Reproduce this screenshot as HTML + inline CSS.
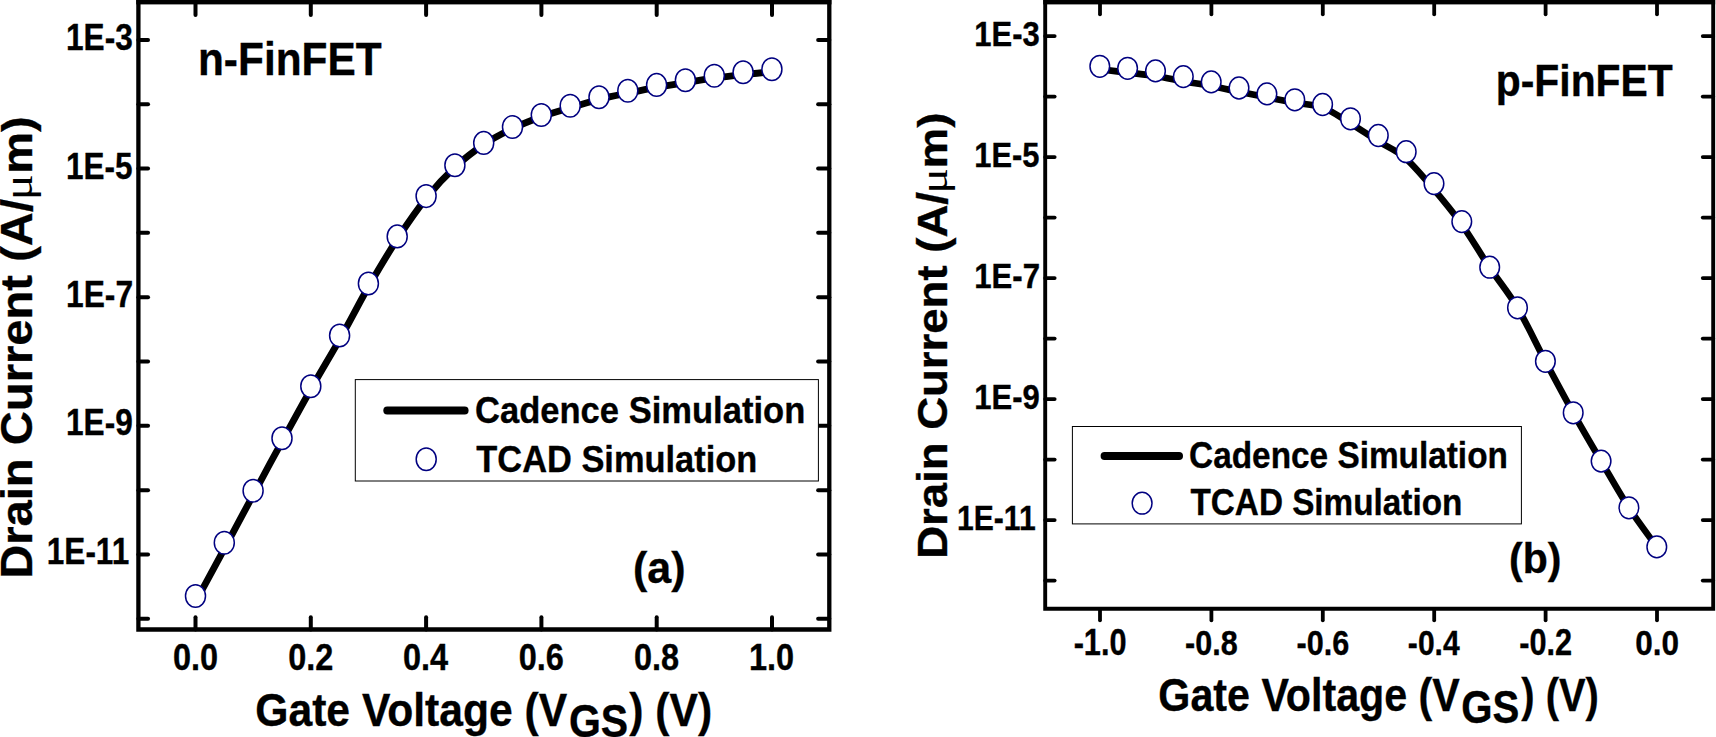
<!DOCTYPE html>
<html><head><meta charset="utf-8"><title>FinFET Id-Vg</title>
<style>
html,body{margin:0;padding:0;background:#fff;}
body{width:1716px;height:737px;overflow:hidden;}
svg{display:block;font-family:"Liberation Sans",sans-serif;font-weight:bold;fill:#000;}
text{stroke:#000;stroke-width:0.35px;}
</style></head><body>
<svg width="1716" height="737" viewBox="0 0 1716 737">
<rect width="1716" height="737" fill="#fff"/>
<path d="M138.4,0 V629.5 H829.3 V0" fill="none" stroke="#000" stroke-width="4.3" stroke-linejoin="miter"/>
<rect x="136.25" y="0" width="695.1999999999999" height="4.4" fill="#000"/>
<line x1="138.4" y1="39.90" x2="148.05" y2="39.90" stroke="#000" stroke-width="4" stroke-linecap="round"/>
<line x1="829.3" y1="39.90" x2="818.15" y2="39.90" stroke="#000" stroke-width="4" stroke-linecap="round"/>
<line x1="138.4" y1="104.22" x2="148.05" y2="104.22" stroke="#000" stroke-width="4" stroke-linecap="round"/>
<line x1="829.3" y1="104.22" x2="818.15" y2="104.22" stroke="#000" stroke-width="4" stroke-linecap="round"/>
<line x1="138.4" y1="168.54" x2="148.05" y2="168.54" stroke="#000" stroke-width="4" stroke-linecap="round"/>
<line x1="829.3" y1="168.54" x2="818.15" y2="168.54" stroke="#000" stroke-width="4" stroke-linecap="round"/>
<line x1="138.4" y1="232.86" x2="148.05" y2="232.86" stroke="#000" stroke-width="4" stroke-linecap="round"/>
<line x1="829.3" y1="232.86" x2="818.15" y2="232.86" stroke="#000" stroke-width="4" stroke-linecap="round"/>
<line x1="138.4" y1="297.18" x2="148.05" y2="297.18" stroke="#000" stroke-width="4" stroke-linecap="round"/>
<line x1="829.3" y1="297.18" x2="818.15" y2="297.18" stroke="#000" stroke-width="4" stroke-linecap="round"/>
<line x1="138.4" y1="361.50" x2="148.05" y2="361.50" stroke="#000" stroke-width="4" stroke-linecap="round"/>
<line x1="829.3" y1="361.50" x2="818.15" y2="361.50" stroke="#000" stroke-width="4" stroke-linecap="round"/>
<line x1="138.4" y1="425.82" x2="148.05" y2="425.82" stroke="#000" stroke-width="4" stroke-linecap="round"/>
<line x1="829.3" y1="425.82" x2="818.15" y2="425.82" stroke="#000" stroke-width="4" stroke-linecap="round"/>
<line x1="138.4" y1="490.14" x2="148.05" y2="490.14" stroke="#000" stroke-width="4" stroke-linecap="round"/>
<line x1="829.3" y1="490.14" x2="818.15" y2="490.14" stroke="#000" stroke-width="4" stroke-linecap="round"/>
<line x1="138.4" y1="554.46" x2="148.05" y2="554.46" stroke="#000" stroke-width="4" stroke-linecap="round"/>
<line x1="829.3" y1="554.46" x2="818.15" y2="554.46" stroke="#000" stroke-width="4" stroke-linecap="round"/>
<line x1="138.4" y1="618.78" x2="148.05" y2="618.78" stroke="#000" stroke-width="4" stroke-linecap="round"/>
<line x1="829.3" y1="618.78" x2="818.15" y2="618.78" stroke="#000" stroke-width="4" stroke-linecap="round"/>
<line x1="195.50" y1="2.2" x2="195.50" y2="14.95" stroke="#000" stroke-width="4" stroke-linecap="round"/>
<line x1="195.50" y1="629.5" x2="195.50" y2="617.35" stroke="#000" stroke-width="4" stroke-linecap="round"/>
<line x1="310.80" y1="2.2" x2="310.80" y2="14.95" stroke="#000" stroke-width="4" stroke-linecap="round"/>
<line x1="310.80" y1="629.5" x2="310.80" y2="617.35" stroke="#000" stroke-width="4" stroke-linecap="round"/>
<line x1="426.10" y1="2.2" x2="426.10" y2="14.95" stroke="#000" stroke-width="4" stroke-linecap="round"/>
<line x1="426.10" y1="629.5" x2="426.10" y2="617.35" stroke="#000" stroke-width="4" stroke-linecap="round"/>
<line x1="541.40" y1="2.2" x2="541.40" y2="14.95" stroke="#000" stroke-width="4" stroke-linecap="round"/>
<line x1="541.40" y1="629.5" x2="541.40" y2="617.35" stroke="#000" stroke-width="4" stroke-linecap="round"/>
<line x1="656.70" y1="2.2" x2="656.70" y2="14.95" stroke="#000" stroke-width="4" stroke-linecap="round"/>
<line x1="656.70" y1="629.5" x2="656.70" y2="617.35" stroke="#000" stroke-width="4" stroke-linecap="round"/>
<line x1="772.00" y1="2.2" x2="772.00" y2="14.95" stroke="#000" stroke-width="4" stroke-linecap="round"/>
<line x1="772.00" y1="629.5" x2="772.00" y2="617.35" stroke="#000" stroke-width="4" stroke-linecap="round"/>
<path d="M198.3,596.8 C203.1,587.9 217.6,561.2 227.1,543.6 C236.6,526.0 245.7,508.8 255.1,491.3 C264.5,473.8 273.9,456.2 283.5,438.8 C293.0,421.4 302.6,403.8 312.3,386.7 C322.0,369.6 332.0,353.2 341.6,336.1 C351.2,319.0 360.4,300.8 369.9,284.3 C379.4,267.9 388.9,251.9 398.4,237.4 C407.9,222.9 417.4,209.2 426.9,197.4 C436.4,185.6 445.9,175.6 455.4,166.8 C464.9,158.0 474.5,150.8 484.0,144.4 C493.5,138.0 503.0,133.2 512.5,128.6 C522.1,124.0 531.7,120.3 541.3,116.8 C550.9,113.3 560.6,110.7 570.2,107.8 C579.8,104.9 589.4,102.0 599.0,99.5 C608.6,97.0 618.2,95.1 627.8,93.1 C637.4,91.1 647.0,89.1 656.6,87.3 C666.2,85.6 675.8,84.1 685.4,82.6 C695.0,81.1 704.7,79.5 714.3,78.2 C723.9,76.9 733.5,75.8 743.1,74.7 C752.7,73.6 767.1,72.2 771.9,71.7" fill="none" stroke="#000" stroke-width="6.8" stroke-linejoin="round"/>
<ellipse cx="195.5" cy="596.0" rx="10.0" ry="11.3" fill="#fff" stroke="#000080" stroke-width="1.5"/>
<ellipse cx="224.3" cy="542.8" rx="10.0" ry="11.3" fill="#fff" stroke="#000080" stroke-width="1.5"/>
<ellipse cx="253.1" cy="490.7" rx="10.0" ry="11.3" fill="#fff" stroke="#000080" stroke-width="1.5"/>
<ellipse cx="282.0" cy="438.3" rx="10.0" ry="11.3" fill="#fff" stroke="#000080" stroke-width="1.5"/>
<ellipse cx="310.8" cy="386.2" rx="10.0" ry="11.3" fill="#fff" stroke="#000080" stroke-width="1.5"/>
<ellipse cx="339.6" cy="335.5" rx="10.0" ry="11.3" fill="#fff" stroke="#000080" stroke-width="1.5"/>
<ellipse cx="368.4" cy="283.5" rx="10.0" ry="11.3" fill="#fff" stroke="#000080" stroke-width="1.5"/>
<ellipse cx="397.2" cy="236.4" rx="10.0" ry="11.3" fill="#fff" stroke="#000080" stroke-width="1.5"/>
<ellipse cx="426.1" cy="196.1" rx="10.0" ry="11.3" fill="#fff" stroke="#000080" stroke-width="1.5"/>
<ellipse cx="454.9" cy="165.3" rx="10.0" ry="11.3" fill="#fff" stroke="#000080" stroke-width="1.5"/>
<ellipse cx="483.7" cy="142.9" rx="10.0" ry="11.3" fill="#fff" stroke="#000080" stroke-width="1.5"/>
<ellipse cx="512.5" cy="127.0" rx="10.0" ry="11.3" fill="#fff" stroke="#000080" stroke-width="1.5"/>
<ellipse cx="541.3" cy="115.0" rx="10.0" ry="11.3" fill="#fff" stroke="#000080" stroke-width="1.5"/>
<ellipse cx="570.2" cy="105.8" rx="10.0" ry="11.3" fill="#fff" stroke="#000080" stroke-width="1.5"/>
<ellipse cx="599.0" cy="97.3" rx="10.0" ry="11.3" fill="#fff" stroke="#000080" stroke-width="1.5"/>
<ellipse cx="627.8" cy="90.8" rx="10.0" ry="11.3" fill="#fff" stroke="#000080" stroke-width="1.5"/>
<ellipse cx="656.6" cy="84.9" rx="10.0" ry="11.3" fill="#fff" stroke="#000080" stroke-width="1.5"/>
<ellipse cx="685.4" cy="80.2" rx="10.0" ry="11.3" fill="#fff" stroke="#000080" stroke-width="1.5"/>
<ellipse cx="714.3" cy="75.8" rx="10.0" ry="11.3" fill="#fff" stroke="#000080" stroke-width="1.5"/>
<ellipse cx="743.1" cy="72.3" rx="10.0" ry="11.3" fill="#fff" stroke="#000080" stroke-width="1.5"/>
<ellipse cx="771.9" cy="69.3" rx="10.0" ry="11.3" fill="#fff" stroke="#000080" stroke-width="1.5"/>
<rect x="355.3" y="379.6" width="463.09999999999997" height="101.39999999999998" fill="#fff" stroke="#000" stroke-width="1"/>
<line x1="387.2" y1="410.5" x2="464.7" y2="410.5" stroke="#000" stroke-width="7.8" stroke-linecap="round"/>
<ellipse cx="426.2" cy="459.3" rx="10.0" ry="11.3" fill="#fff" stroke="#000080" stroke-width="1.5"/>
<text transform="translate(475.02,423.00) scale(0.9217,1)" font-size="37.5">Cadence Simulation</text>
<text transform="translate(476.26,471.50) scale(0.9178,1)" font-size="37.5">TCAD Simulation</text>
<text transform="translate(197.94,74.50) scale(0.9122,1)" font-size="46.5">n-FinFET</text>
<text transform="translate(632.96,582.80) scale(0.9559,1)" font-size="45">(a)</text>
<text transform="translate(66.02,50.10) scale(0.8498,1)" font-size="37.2">1E-3</text>
<text transform="translate(66.03,178.50) scale(0.8467,1)" font-size="37.2">1E-5</text>
<text transform="translate(66.01,306.90) scale(0.8540,1)" font-size="37.2">1E-7</text>
<text transform="translate(66.02,435.30) scale(0.8509,1)" font-size="37.2">1E-9</text>
<text transform="translate(46.83,563.70) scale(0.8474,1)" font-size="37.2">1E-11</text>
<text transform="translate(172.92,670.00) scale(0.9000,1)" font-size="36.1">0.0</text>
<text transform="translate(288.22,670.00) scale(0.9000,1)" font-size="36.1">0.2</text>
<text transform="translate(402.95,670.00) scale(0.9000,1)" font-size="36.1">0.4</text>
<text transform="translate(518.74,670.00) scale(0.9000,1)" font-size="36.1">0.6</text>
<text transform="translate(633.96,670.00) scale(0.9000,1)" font-size="36.1">0.8</text>
<text transform="translate(749.01,670.00) scale(0.9000,1)" font-size="36.1">1.0</text>
<text transform="translate(255.29,725.90) scale(0.9170,1)" font-size="46.5">Gate Voltage (V</text>
<text transform="translate(568.96,737.20) scale(0.8822,1)" font-size="46.5">GS</text>
<text transform="translate(629.20,725.90) scale(0.9170,1)" font-size="46.5">) (V)</text>
<text transform="translate(31.90,575.80) rotate(-90) scale(1.0843,1) translate(-2.83,0)" font-size="43.5">Drain Current (A/</text>
<text transform="translate(31.90,196.30) rotate(-90) scale(1.2406,1) translate(-3.12,0)" font-size="39" font-family="Liberation Serif, serif" font-weight="normal" style="stroke:none">μ</text>
<text transform="translate(31.90,170.80) rotate(-90) scale(1.1203,1) translate(-2.73,0)" font-size="41.9775">m)</text>
<path d="M1045.2,0 V608.8 H1713.2 V0" fill="none" stroke="#000" stroke-width="3.9" stroke-linejoin="miter"/>
<rect x="1043.25" y="0" width="671.9" height="4.4" fill="#000"/>
<line x1="1045.2" y1="36.10" x2="1054.65" y2="36.10" stroke="#000" stroke-width="3.8" stroke-linecap="round"/>
<line x1="1713.2" y1="36.10" x2="1702.75" y2="36.10" stroke="#000" stroke-width="3.8" stroke-linecap="round"/>
<line x1="1045.2" y1="96.60" x2="1054.65" y2="96.60" stroke="#000" stroke-width="3.8" stroke-linecap="round"/>
<line x1="1713.2" y1="96.60" x2="1702.75" y2="96.60" stroke="#000" stroke-width="3.8" stroke-linecap="round"/>
<line x1="1045.2" y1="157.10" x2="1054.65" y2="157.10" stroke="#000" stroke-width="3.8" stroke-linecap="round"/>
<line x1="1713.2" y1="157.10" x2="1702.75" y2="157.10" stroke="#000" stroke-width="3.8" stroke-linecap="round"/>
<line x1="1045.2" y1="217.60" x2="1054.65" y2="217.60" stroke="#000" stroke-width="3.8" stroke-linecap="round"/>
<line x1="1713.2" y1="217.60" x2="1702.75" y2="217.60" stroke="#000" stroke-width="3.8" stroke-linecap="round"/>
<line x1="1045.2" y1="278.10" x2="1054.65" y2="278.10" stroke="#000" stroke-width="3.8" stroke-linecap="round"/>
<line x1="1713.2" y1="278.10" x2="1702.75" y2="278.10" stroke="#000" stroke-width="3.8" stroke-linecap="round"/>
<line x1="1045.2" y1="338.60" x2="1054.65" y2="338.60" stroke="#000" stroke-width="3.8" stroke-linecap="round"/>
<line x1="1713.2" y1="338.60" x2="1702.75" y2="338.60" stroke="#000" stroke-width="3.8" stroke-linecap="round"/>
<line x1="1045.2" y1="399.10" x2="1054.65" y2="399.10" stroke="#000" stroke-width="3.8" stroke-linecap="round"/>
<line x1="1713.2" y1="399.10" x2="1702.75" y2="399.10" stroke="#000" stroke-width="3.8" stroke-linecap="round"/>
<line x1="1045.2" y1="459.60" x2="1054.65" y2="459.60" stroke="#000" stroke-width="3.8" stroke-linecap="round"/>
<line x1="1713.2" y1="459.60" x2="1702.75" y2="459.60" stroke="#000" stroke-width="3.8" stroke-linecap="round"/>
<line x1="1045.2" y1="520.10" x2="1054.65" y2="520.10" stroke="#000" stroke-width="3.8" stroke-linecap="round"/>
<line x1="1713.2" y1="520.10" x2="1702.75" y2="520.10" stroke="#000" stroke-width="3.8" stroke-linecap="round"/>
<line x1="1045.2" y1="580.60" x2="1054.65" y2="580.60" stroke="#000" stroke-width="3.8" stroke-linecap="round"/>
<line x1="1713.2" y1="580.60" x2="1702.75" y2="580.60" stroke="#000" stroke-width="3.8" stroke-linecap="round"/>
<line x1="1100.00" y1="2.3" x2="1100.00" y2="14.35" stroke="#000" stroke-width="3.8" stroke-linecap="round"/>
<line x1="1100.00" y1="608.8" x2="1100.00" y2="620.25" stroke="#000" stroke-width="3.8" stroke-linecap="round"/>
<line x1="1211.40" y1="2.3" x2="1211.40" y2="14.35" stroke="#000" stroke-width="3.8" stroke-linecap="round"/>
<line x1="1211.40" y1="608.8" x2="1211.40" y2="620.25" stroke="#000" stroke-width="3.8" stroke-linecap="round"/>
<line x1="1322.80" y1="2.3" x2="1322.80" y2="14.35" stroke="#000" stroke-width="3.8" stroke-linecap="round"/>
<line x1="1322.80" y1="608.8" x2="1322.80" y2="620.25" stroke="#000" stroke-width="3.8" stroke-linecap="round"/>
<line x1="1434.20" y1="2.3" x2="1434.20" y2="14.35" stroke="#000" stroke-width="3.8" stroke-linecap="round"/>
<line x1="1434.20" y1="608.8" x2="1434.20" y2="620.25" stroke="#000" stroke-width="3.8" stroke-linecap="round"/>
<line x1="1545.60" y1="2.3" x2="1545.60" y2="14.35" stroke="#000" stroke-width="3.8" stroke-linecap="round"/>
<line x1="1545.60" y1="608.8" x2="1545.60" y2="620.25" stroke="#000" stroke-width="3.8" stroke-linecap="round"/>
<line x1="1657.00" y1="2.3" x2="1657.00" y2="14.35" stroke="#000" stroke-width="3.8" stroke-linecap="round"/>
<line x1="1657.00" y1="608.8" x2="1657.00" y2="620.25" stroke="#000" stroke-width="3.8" stroke-linecap="round"/>
<path d="M1099.8,69.3 C1104.4,69.8 1118.4,71.5 1127.6,72.6 C1136.9,73.7 1146.2,74.5 1155.5,75.9 C1164.8,77.3 1174.1,79.5 1183.3,81.2 C1192.6,82.9 1201.9,84.3 1211.2,86.1 C1220.5,87.9 1229.8,90.0 1239.0,91.8 C1248.3,93.6 1257.6,95.4 1266.9,97.2 C1276.2,99.0 1285.5,101.0 1294.8,102.7 C1304.0,104.4 1313.3,104.1 1322.6,107.5 C1331.9,110.9 1341.3,117.8 1350.5,123.3 C1359.6,128.8 1368.5,135.2 1377.5,140.8 C1386.5,146.5 1395.3,149.5 1404.4,157.2 C1413.4,164.9 1422.6,176.1 1432.0,187.1 C1441.4,198.1 1451.2,209.7 1460.8,223.1 C1470.5,236.5 1480.2,253.6 1489.7,267.7 C1499.2,281.8 1508.3,292.2 1517.5,307.8 C1526.8,323.4 1536.1,343.8 1545.4,361.3 C1554.7,378.8 1564.0,396.2 1573.2,412.8 C1582.5,429.4 1591.8,445.3 1601.1,461.1 C1610.4,476.9 1619.7,493.5 1628.9,507.8 C1638.2,522.1 1652.2,540.4 1656.8,546.9" fill="none" stroke="#000" stroke-width="6.6" stroke-linejoin="round"/>
<ellipse cx="1099.8" cy="66.3" rx="9.8" ry="10.9" fill="#fff" stroke="#000080" stroke-width="1.5"/>
<ellipse cx="1127.6" cy="68.3" rx="9.8" ry="10.9" fill="#fff" stroke="#000080" stroke-width="1.5"/>
<ellipse cx="1155.5" cy="70.9" rx="9.8" ry="10.9" fill="#fff" stroke="#000080" stroke-width="1.5"/>
<ellipse cx="1183.3" cy="76.6" rx="9.8" ry="10.9" fill="#fff" stroke="#000080" stroke-width="1.5"/>
<ellipse cx="1211.2" cy="81.9" rx="9.8" ry="10.9" fill="#fff" stroke="#000080" stroke-width="1.5"/>
<ellipse cx="1239.0" cy="88.0" rx="9.8" ry="10.9" fill="#fff" stroke="#000080" stroke-width="1.5"/>
<ellipse cx="1266.9" cy="93.9" rx="9.8" ry="10.9" fill="#fff" stroke="#000080" stroke-width="1.5"/>
<ellipse cx="1294.8" cy="99.8" rx="9.8" ry="10.9" fill="#fff" stroke="#000080" stroke-width="1.5"/>
<ellipse cx="1322.6" cy="104.5" rx="9.8" ry="10.9" fill="#fff" stroke="#000080" stroke-width="1.5"/>
<ellipse cx="1350.5" cy="118.8" rx="9.8" ry="10.9" fill="#fff" stroke="#000080" stroke-width="1.5"/>
<ellipse cx="1378.3" cy="135.5" rx="9.8" ry="10.9" fill="#fff" stroke="#000080" stroke-width="1.5"/>
<ellipse cx="1406.2" cy="151.7" rx="9.8" ry="10.9" fill="#fff" stroke="#000080" stroke-width="1.5"/>
<ellipse cx="1434.0" cy="183.6" rx="9.8" ry="10.9" fill="#fff" stroke="#000080" stroke-width="1.5"/>
<ellipse cx="1461.8" cy="221.6" rx="9.8" ry="10.9" fill="#fff" stroke="#000080" stroke-width="1.5"/>
<ellipse cx="1489.7" cy="267.2" rx="9.8" ry="10.9" fill="#fff" stroke="#000080" stroke-width="1.5"/>
<ellipse cx="1517.5" cy="307.8" rx="9.8" ry="10.9" fill="#fff" stroke="#000080" stroke-width="1.5"/>
<ellipse cx="1545.4" cy="361.3" rx="9.8" ry="10.9" fill="#fff" stroke="#000080" stroke-width="1.5"/>
<ellipse cx="1573.2" cy="412.8" rx="9.8" ry="10.9" fill="#fff" stroke="#000080" stroke-width="1.5"/>
<ellipse cx="1601.1" cy="461.1" rx="9.8" ry="10.9" fill="#fff" stroke="#000080" stroke-width="1.5"/>
<ellipse cx="1628.9" cy="507.8" rx="9.8" ry="10.9" fill="#fff" stroke="#000080" stroke-width="1.5"/>
<ellipse cx="1656.8" cy="546.9" rx="9.8" ry="10.9" fill="#fff" stroke="#000080" stroke-width="1.5"/>
<rect x="1072.4" y="426.5" width="449.0" height="97.39999999999998" fill="#fff" stroke="#000" stroke-width="1"/>
<line x1="1104.5" y1="456" x2="1179.1" y2="456" stroke="#000" stroke-width="7.8" stroke-linecap="round"/>
<ellipse cx="1142.1" cy="503.2" rx="9.9" ry="10.9" fill="#fff" stroke="#000080" stroke-width="1.5"/>
<text transform="translate(1189.07,468.20) scale(0.9019,1)" font-size="37">Cadence Simulation</text>
<text transform="translate(1190.47,514.90) scale(0.8998,1)" font-size="37">TCAD Simulation</text>
<text transform="translate(1495.74,96.20) scale(0.9184,1)" font-size="44.5">p-FinFET</text>
<text transform="translate(1509.05,572.80) scale(0.9673,1)" font-size="42.4">(b)</text>
<text transform="translate(974.26,45.50) scale(0.8664,1)" font-size="35.8">1E-3</text>
<text transform="translate(974.27,166.50) scale(0.8632,1)" font-size="35.8">1E-5</text>
<text transform="translate(974.25,287.50) scale(0.8707,1)" font-size="35.8">1E-7</text>
<text transform="translate(974.26,408.50) scale(0.8675,1)" font-size="35.8">1E-9</text>
<text transform="translate(957.02,529.50) scale(0.8408,1)" font-size="35.8">1E-11</text>
<text transform="translate(1073.65,655.10) scale(0.8531,1)" font-size="36">-1.0</text>
<text transform="translate(1185.06,655.10) scale(0.8480,1)" font-size="36">-0.8</text>
<text transform="translate(1296.45,655.10) scale(0.8506,1)" font-size="36">-0.6</text>
<text transform="translate(1407.87,655.10) scale(0.8354,1)" font-size="36">-0.4</text>
<text transform="translate(1519.25,655.10) scale(0.8531,1)" font-size="36">-0.2</text>
<text transform="translate(1635.17,655.10) scale(0.8766,1)" font-size="36">0.0</text>
<text transform="translate(1158.35,711.30) scale(0.8959,1)" font-size="46">Gate Voltage (V</text>
<text transform="translate(1461.19,723.20) scale(0.8743,1)" font-size="46">GS</text>
<text transform="translate(1521.30,711.30) scale(0.8661,1)" font-size="46">) (V)</text>
<text transform="translate(947.10,555.90) rotate(-90) scale(1.0842,1) translate(-2.73,0)" font-size="42">Drain Current (A/</text>
<text transform="translate(947.10,190.00) rotate(-90) scale(1.2774,1) translate(-3.00,0)" font-size="37.5" font-family="Liberation Serif, serif" font-weight="normal" style="stroke:none">μ</text>
<text transform="translate(947.10,165.50) rotate(-90) scale(1.1292,1) translate(-2.63,0)" font-size="40.53">m)</text>
</svg>
</body></html>
